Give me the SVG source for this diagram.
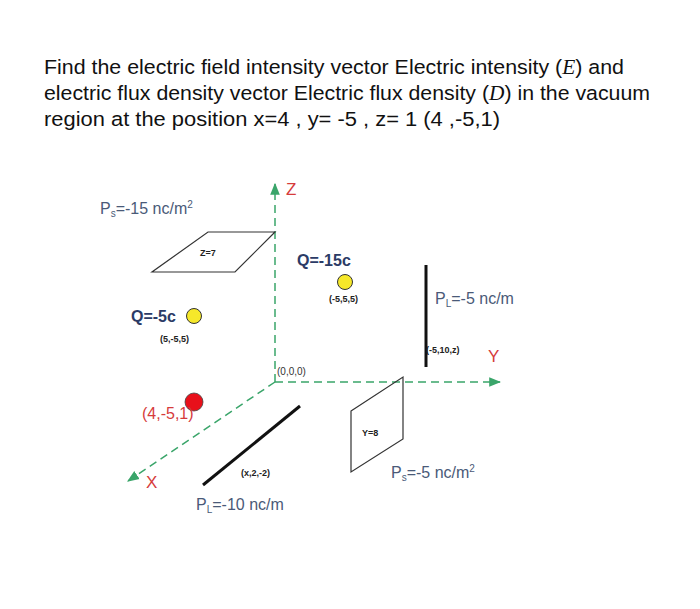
<svg xmlns="http://www.w3.org/2000/svg" width="700" height="609" viewBox="0 0 700 609">
<style>
text{font-family:"Liberation Sans",Arial,sans-serif}
.t{font-size:20.5px;fill:#111}
.lab{font-size:16px;fill:#4a5a78}
.q{font-size:16px;font-weight:bold;fill:#2b3b66}
.sm{font-size:9px;font-weight:bold;fill:#222}
.ax{stroke:#3aa56a;stroke-width:1.5;stroke-dasharray:8,5;fill:none}
.pl{fill:none;stroke:#333;stroke-width:1.2}
</style>
<defs><marker id="ah" viewBox="0 0 10 10" refX="9" refY="5" markerWidth="8" markerHeight="8" orient="auto"><path d="M0,1 L10,5 L0,9 z" fill="#3aa56a"/></marker></defs>
<rect width="700" height="609" fill="#fff"/>
<text class="t" x="44" y="74" textLength="580" lengthAdjust="spacingAndGlyphs">Find the electric field intensity vector Electric intensity (<tspan font-family="Liberation Serif" font-style="italic">E</tspan>) and</text>
<text class="t" x="44" y="100" textLength="606" lengthAdjust="spacingAndGlyphs">electric flux density vector Electric flux density (<tspan font-family="Liberation Serif" font-style="italic">D</tspan>) in the vacuum</text>
<text class="t" x="44" y="126" textLength="456" lengthAdjust="spacingAndGlyphs">region at the position x=4 , y= -5 , z= 1 (4 ,-5,1)</text>
<g id="axes">
<line class="ax" x1="275" y1="382" x2="275" y2="184" marker-end="url(#ah)"/>
<line class="ax" x1="275" y1="382" x2="500" y2="382" marker-end="url(#ah)"/>
<line class="ax" x1="275" y1="382" x2="128" y2="481" marker-end="url(#ah)"/>
<text x="286" y="195" font-size="17" fill="#d63b3b">Z</text>
<text x="488" y="362" font-size="17" fill="#d63b3b">Y</text>
<text x="146" y="488" font-size="17" fill="#d63b3b">X</text>
<text x="277" y="375" font-size="10" fill="#333">(0,0,0)</text>
</g>
<g id="plane-z7">
<polygon class="pl" points="152,272 235,272 275,232 208,232"/>
<text class="sm" x="200" y="256">Z=7</text>
<text class="lab" x="100" y="214">P<tspan font-size="10" dy="3">s</tspan><tspan dy="-3">=-15 nc/m</tspan><tspan font-size="10" dy="-6">2</tspan></text>
</g>
<g id="q15">
<circle cx="345" cy="282" r="7.5" fill="#f6e82a" stroke="#333" stroke-width="1"/>
<text class="q" x="297" y="266">Q=-15c</text>
<text class="sm" x="329" y="302">(-5,5,5)</text>
</g>
<g id="q5">
<circle cx="194" cy="316" r="7.5" fill="#f6e82a" stroke="#333" stroke-width="1"/>
<text class="q" x="131" y="322">Q=-5c</text>
<text class="sm" x="160" y="342">(5,-5,5)</text>
</g>
<g id="point">
<circle cx="194" cy="402" r="9" fill="#e8101a" stroke="#444" stroke-width="0.8"/>
<text x="142" y="419" font-size="16" fill="#d63b3b">(4,-5,1)</text>
</g>
<g id="line-z">
<line x1="426" y1="265" x2="426" y2="367" stroke="#111" stroke-width="3"/>
<text class="lab" x="435" y="304">P<tspan font-size="10" dy="3">L</tspan><tspan dy="-3">=-5 nc/m</tspan></text>
<text class="sm" x="426" y="353">(-5,10,z)</text>
</g>
<g id="plane-y8">
<polygon class="pl" points="351,411 403,377 403,439 351,472"/>
<text class="sm" x="362" y="436">Y=8</text>
<text class="lab" x="391" y="478">P<tspan font-size="10" dy="3">s</tspan><tspan dy="-3">=-5 nc/m</tspan><tspan font-size="10" dy="-6">2</tspan></text>
</g>
<g id="line-x">
<line x1="203" y1="485" x2="300" y2="406" stroke="#111" stroke-width="3"/>
<text class="sm" x="241" y="476">(x,2,-2)</text>
<text class="lab" x="196" y="510">P<tspan font-size="10" dy="3">L</tspan><tspan dy="-3">=-10 nc/m</tspan></text>
</g>
</svg>
